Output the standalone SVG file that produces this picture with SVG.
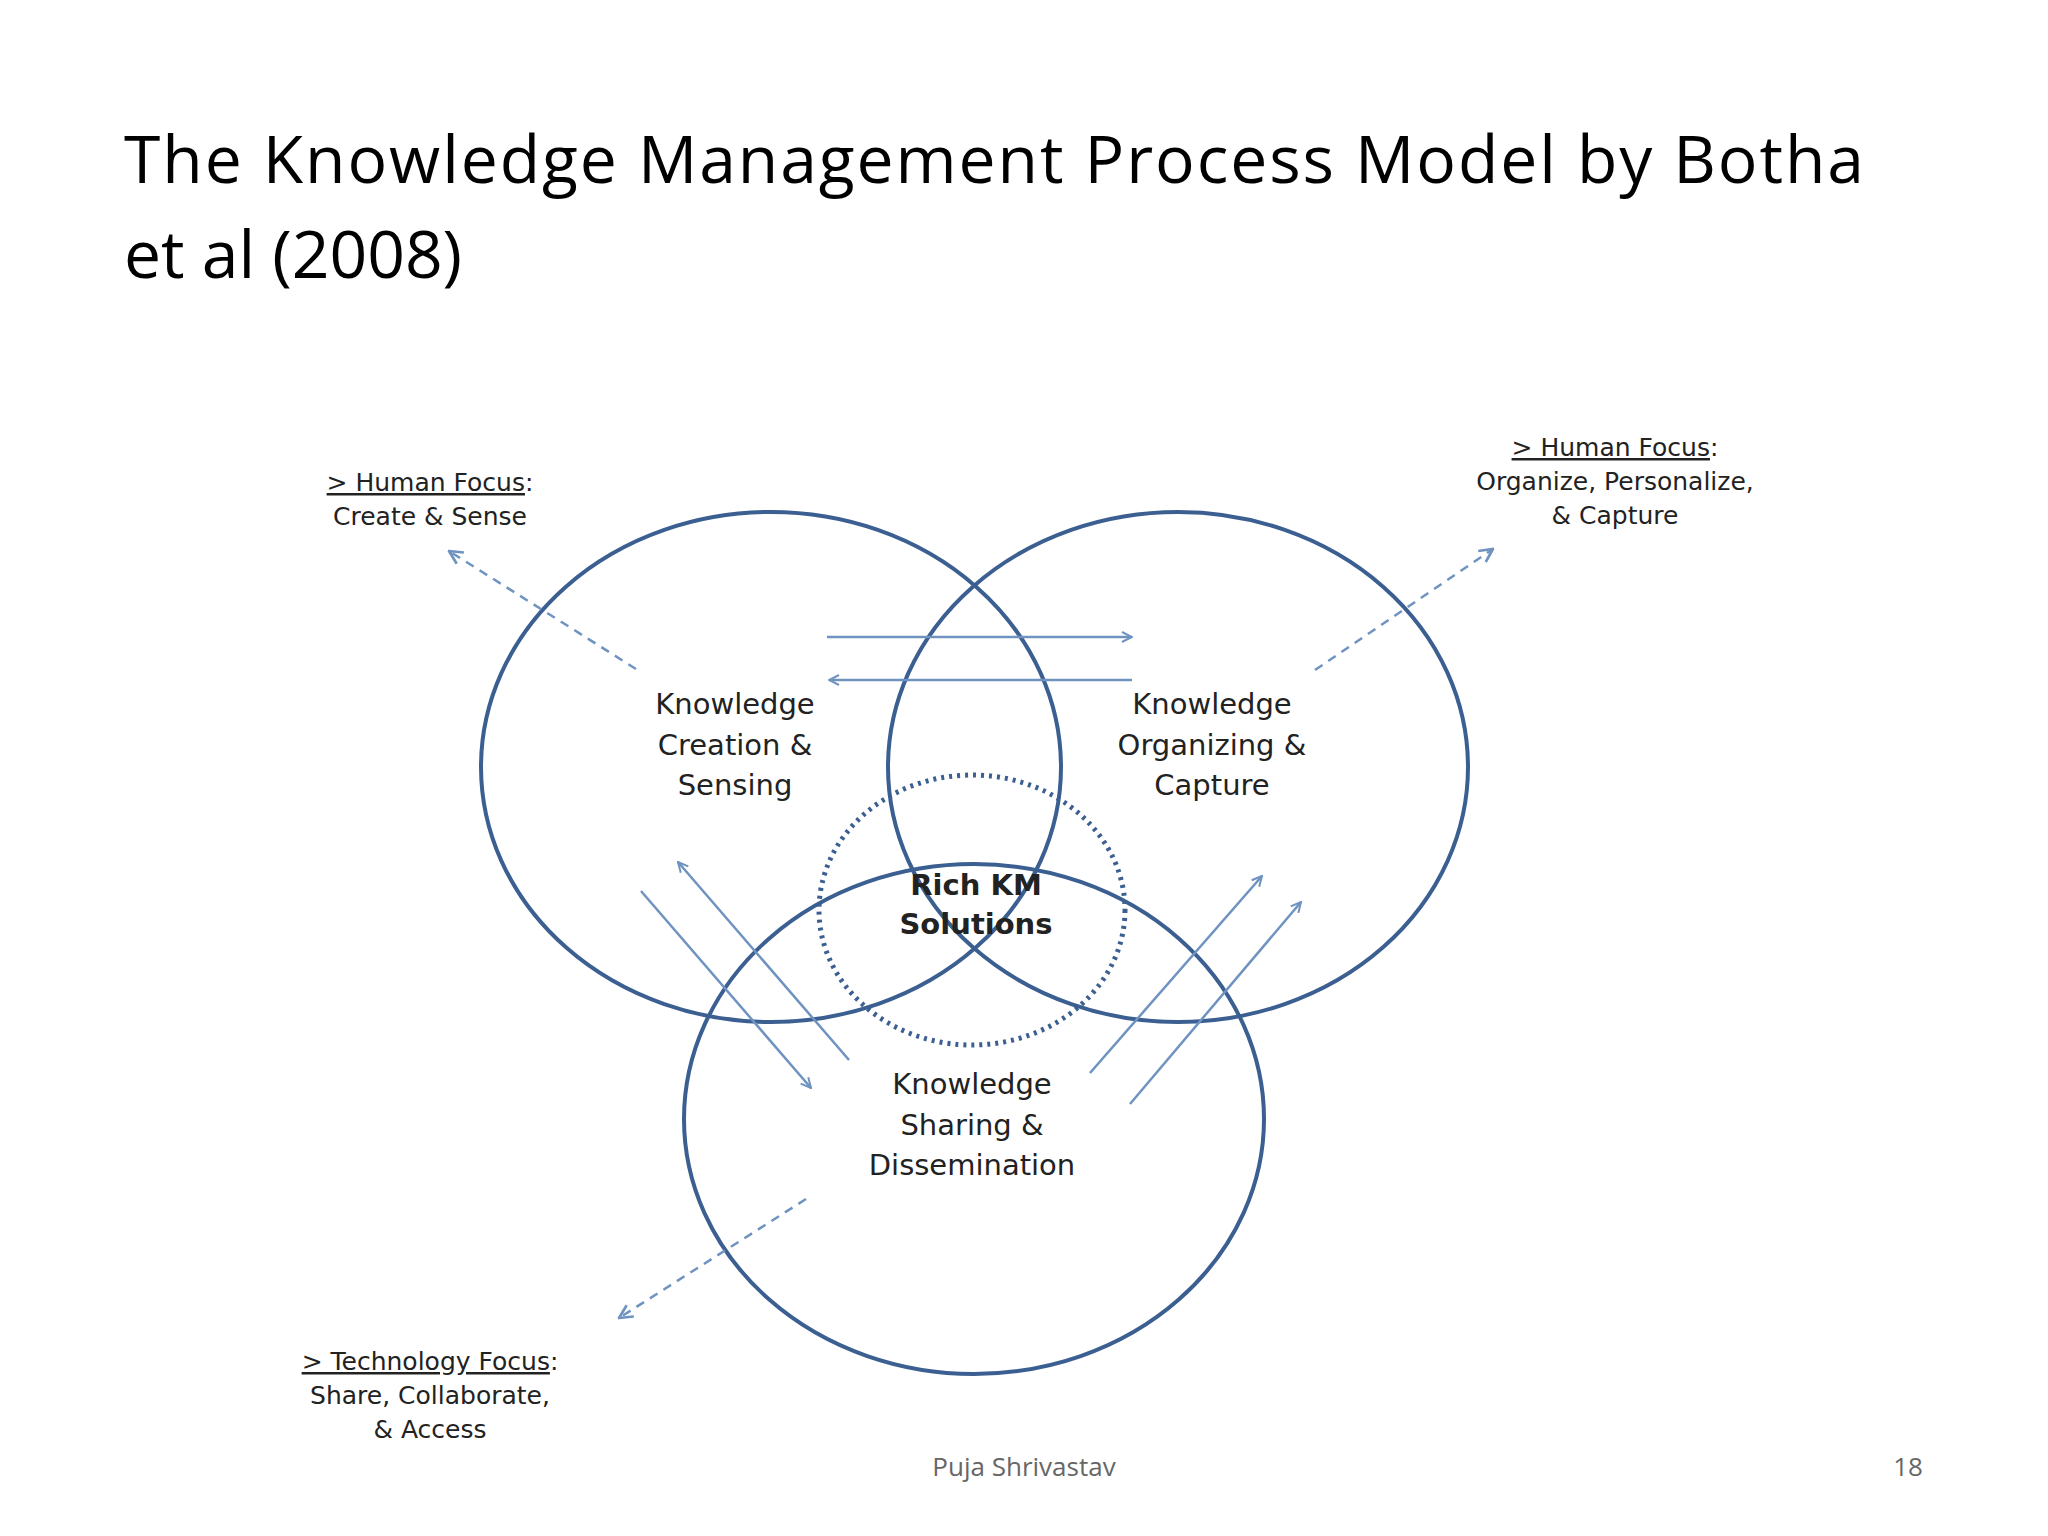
<svg xmlns="http://www.w3.org/2000/svg" width="2048" height="1536" viewBox="0 0 2048 1536">
<defs>
<style>
.c{fill:none;stroke:#3b5f91;stroke-width:4}
.a{stroke:#6f93c0;stroke-width:2.5;fill:none}
.d{stroke:#6f93c0;stroke-width:2.5;fill:none;stroke-dasharray:9 7}
.t{font-family:"DejaVu Sans",sans-serif;font-size:29px;fill:#222;text-anchor:middle}
.n{font-family:"DejaVu Sans",sans-serif;font-size:25px;fill:#222;text-anchor:middle}
.u{text-decoration:underline}
</style>
<marker id="m" viewBox="0 0 12 12" refX="11" refY="6" markerWidth="12" markerHeight="12" markerUnits="userSpaceOnUse" orient="auto"><path d="M1,1 L11,6 L1,11" fill="none" stroke="#6f93c0" stroke-width="2"/></marker>
<marker id="md" viewBox="0 0 12 12" refX="11" refY="6" markerWidth="16" markerHeight="16" markerUnits="userSpaceOnUse" orient="auto"><path d="M1,1 L11,6 L1,11" fill="none" stroke="#6f93c0" stroke-width="2"/></marker>
</defs>
<rect width="2048" height="1536" fill="#fff"/>
<text x="124" y="183" font-family="Open Sans,sans-serif" font-size="66" fill="#000" textLength="1740">The Knowledge Management Process Model by Botha</text>
<text x="124" y="278" font-family="Open Sans,sans-serif" font-size="66" fill="#000">et al (2008)</text>
<g id="circle-creation"><ellipse class="c" cx="771" cy="767" rx="290" ry="255"/></g>
<g id="circle-organizing"><ellipse class="c" cx="1178" cy="767" rx="290" ry="255"/></g>
<g id="circle-sharing"><ellipse class="c" cx="974" cy="1119" rx="290" ry="255"/></g>
<g id="rich-km"><ellipse cx="972" cy="910" rx="153" ry="135" fill="none" stroke="#3b5f91" stroke-width="5" stroke-dasharray="3 5"/>
<text class="t" x="976" y="895" font-weight="bold">Rich KM</text><text class="t" x="976" y="934" font-weight="bold">Solutions</text></g>
<g id="label-creation"><text class="t" x="735" y="714">Knowledge</text><text class="t" x="735" y="755">Creation &amp;</text><text class="t" x="735" y="795">Sensing</text></g>
<g id="label-organizing"><text class="t" x="1212" y="714">Knowledge</text><text class="t" x="1212" y="755">Organizing &amp;</text><text class="t" x="1212" y="795">Capture</text></g>
<g id="label-sharing"><text class="t" x="972" y="1094">Knowledge</text><text class="t" x="972" y="1135">Sharing &amp;</text><text class="t" x="972" y="1175">Dissemination</text></g>
<g id="focus-tl"><text class="n" x="430" y="491"><tspan class="u">&gt; Human Focus</tspan>:</text><text class="n" x="430" y="525">Create &amp; Sense</text></g>
<g id="focus-tr"><text class="n" x="1615" y="456"><tspan class="u">&gt; Human Focus</tspan>:</text><text class="n" x="1615" y="490">Organize, Personalize,</text><text class="n" x="1615" y="524">&amp; Capture</text></g>
<g id="focus-bl"><text class="n" x="430" y="1370"><tspan class="u">&gt; Technology Focus</tspan>:</text><text class="n" x="430" y="1404">Share, Collaborate,</text><text class="n" x="430" y="1438">&amp; Access</text></g>
<g id="connectors">
<line class="a" x1="827" y1="637" x2="1132" y2="637" marker-end="url(#m)"/>
<line class="a" x1="1132" y1="680" x2="829" y2="680" marker-end="url(#m)"/>
<line class="a" x1="641" y1="891" x2="811" y2="1088" marker-end="url(#m)"/>
<line class="a" x1="849" y1="1060" x2="678" y2="862" marker-end="url(#m)"/>
<line class="a" x1="1090" y1="1073" x2="1262" y2="876" marker-end="url(#m)"/>
<line class="a" x1="1130" y1="1104" x2="1301" y2="902" marker-end="url(#m)"/>
<line class="d" x1="636" y1="669" x2="449" y2="551" marker-end="url(#md)"/>
<line class="d" x1="1315" y1="670" x2="1493" y2="549" marker-end="url(#md)"/>
<line class="d" x1="806" y1="1199" x2="619" y2="1318" marker-end="url(#md)"/>
</g>
<text x="1024" y="1476" font-family="Open Sans,sans-serif" font-size="26" fill="#666" text-anchor="middle">Puja Shrivastav</text>
<text x="1908" y="1476" font-family="Open Sans,sans-serif" font-size="26" fill="#666" text-anchor="middle">18</text>
</svg>
